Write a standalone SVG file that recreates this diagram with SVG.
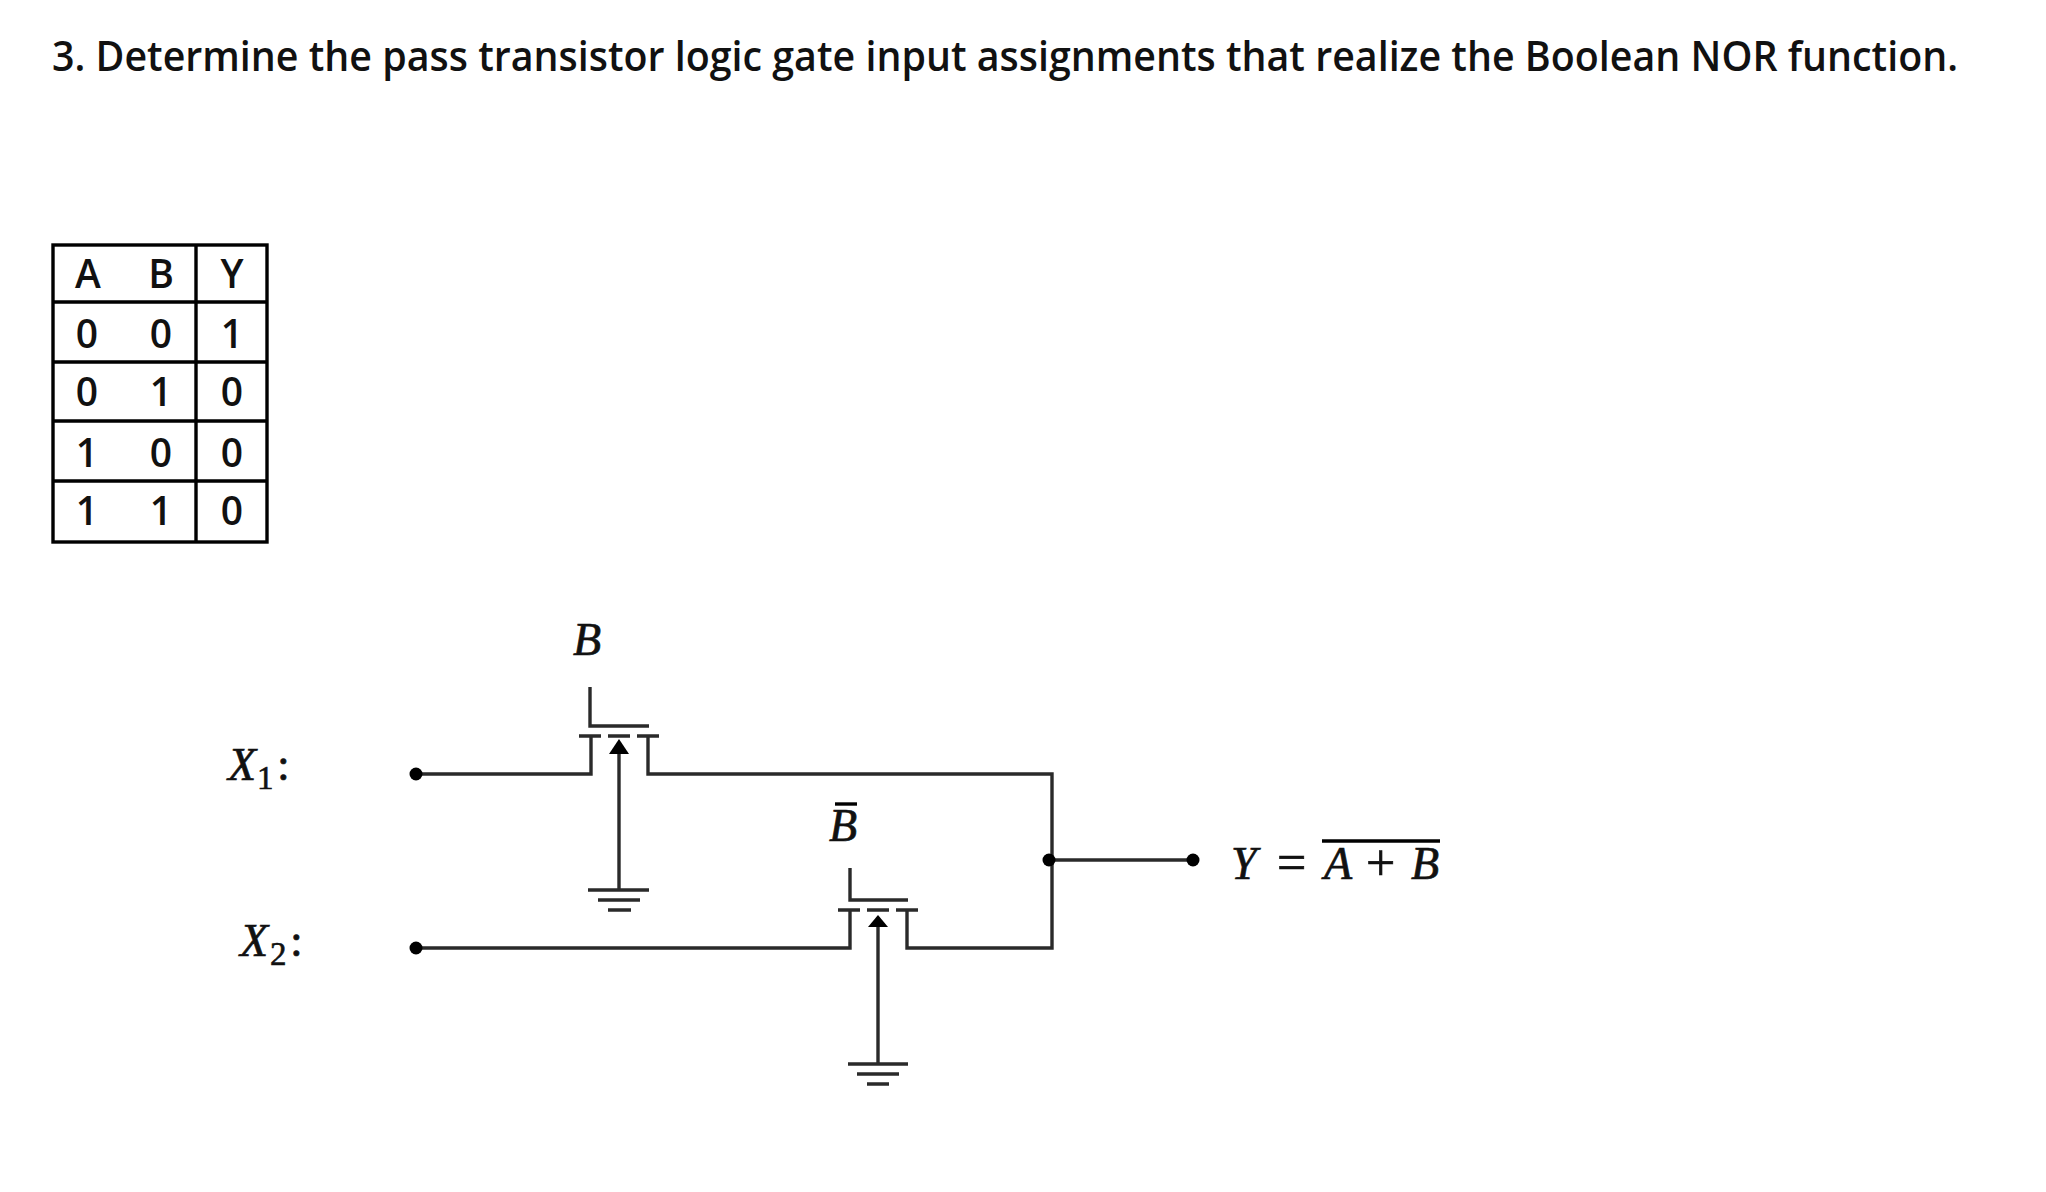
<svg xmlns="http://www.w3.org/2000/svg" width="2046" height="1192" viewBox="0 0 2046 1192">
<style>
.t{font-family:"Open Sans","Noto Sans",sans-serif;fill:#111;font-weight:600}
.title{font-size:41px}
.c{font-size:39px;text-anchor:middle}
.m{font-family:"Liberation Serif",serif;font-style:italic;font-size:46px;fill:#111;stroke:#111;stroke-width:.7}
.r{font-family:"Liberation Serif",serif;font-size:46px;fill:#111;stroke:#111;stroke-width:.7}
.l{font-size:52px}
.s{font-family:"Liberation Serif",serif;font-size:33px;fill:#111;stroke:#111;stroke-width:.6}
.w{fill:none;stroke:#2a2a2a;stroke-width:3.4}
.tb{fill:none;stroke:#000;stroke-width:3.4}
.d{fill:#000}
</style>
<rect width="2046" height="1192" fill="#fff"/>
<text id="title" class="t title" x="52" y="71" textLength="1906" lengthAdjust="spacingAndGlyphs">3. Determine the pass transistor logic gate input assignments that realize the Boolean NOR function.</text>
<g id="truth-table">
<rect class="tb" x="53" y="245" width="214" height="297"/>
<path class="tb" d="M196 245V542M53 302H267M53 362H267M53 421H267M53 481H267"/>
<text class="t c" x="88" y="288">A</text><text class="t c" x="161" y="288">B</text><text class="t c" x="232" y="288">Y</text>
<text class="t c" x="87" y="348">0</text><text class="t c" x="161" y="348">0</text><text class="t c" x="232" y="348">1</text>
<text class="t c" x="87" y="406">0</text><text class="t c" x="161" y="406">1</text><text class="t c" x="232" y="406">0</text>
<text class="t c" x="87" y="467">1</text><text class="t c" x="161" y="467">0</text><text class="t c" x="232" y="467">0</text>
<text class="t c" x="87" y="525">1</text><text class="t c" x="161" y="525">1</text><text class="t c" x="232" y="525">0</text>
</g>
<g id="connectors">
<path class="w" d="M416 774H591V736"/>
<path class="w" d="M648 736V774H1052V948H907V910"/>
<path class="w" d="M416 948H850V910"/>
<path class="w" d="M1049 860H1193"/>
</g>
<g id="terminal-x1"><circle class="d" cx="416" cy="774" r="6.5"/><text class="m" x="228" y="780">X</text><text class="s" x="257" y="789">1</text><text class="r" x="277" y="780">:</text></g>
<g id="terminal-x2"><circle class="d" cx="416" cy="948" r="6.5"/><text class="m" x="240" y="956">X</text><text class="s" x="270" y="965">2</text><text class="r" x="290" y="956">:</text></g>
<g id="transistor-b">
<text class="m" x="573" y="655">B</text>
<path class="w" d="M590 687V726H649M579 736H601M608 736H630M637 736H659M619 750V890M588 890H649M598 900H640M608 910H631"/>
<path class="d" d="M619 739L629 754H609Z"/>
</g>
<g id="transistor-b-bar">
<text class="m" x="829" y="841">B</text>
<path class="w" style="stroke:#000" d="M835 804H857"/>
<path class="w" d="M850 868V900H908M838 910H860M867 910H889M896 910H918M878 923V1064M848 1064H908M857 1074H899M867 1084H889"/>
<path class="d" d="M878 915L888 927H868Z"/>
</g>
<g id="output">
<circle class="d" cx="1049" cy="860" r="6.5"/><circle class="d" cx="1193" cy="860" r="6.5"/>
<text class="m" x="1231" y="879">Y</text><text class="r l" x="1277" y="880">=</text><text class="m" x="1324" y="879">A</text><text class="r l" x="1366" y="880">+</text><text class="m" x="1411" y="879">B</text>
<path class="w" style="stroke:#000" d="M1322 841H1440"/>
</g>
</svg>
